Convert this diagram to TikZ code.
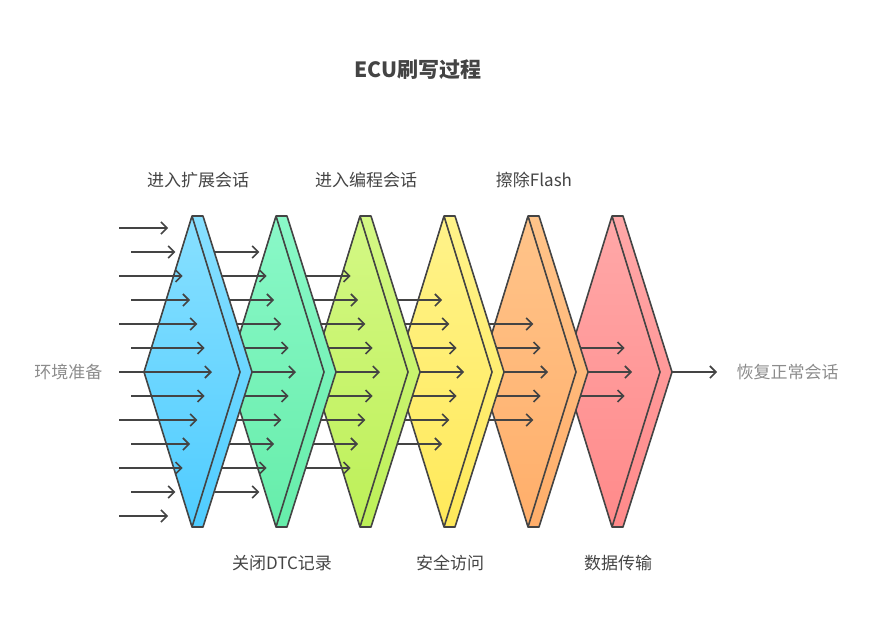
\documentclass[tikz,border=0pt]{standalone}
\usepackage{fontspec}
\setmainfont{Noto Sans CJK SC}
\usetikzlibrary{arrows.meta}
\definecolor{ln}{HTML}{444444}
\tikzset{
  stg/.style={draw=ln,line width=1.6pt,line join=round},
  arr/.style={draw=ln,line width=1.6pt,-{Straight Barb[length=6pt,width=12pt]}},
  lbl/.style={text=ln,font=\fontsize{17}{20}\selectfont},
  side/.style={text=black!45,font=\fontsize{17}{20}\selectfont},
}
\begin{document}
\begin{tikzpicture}[x=1pt,y=-1pt]
\useasboundingbox (0,0) rectangle (888,624);
\node[font=\bfseries\fontsize{21}{25}\selectfont,text=ln] (title) at (418,70) {ECU刷写过程};
\foreach \k/\ca/\cb in {6/FFA8A8/FF8A8A,5/FFC48A/FFAE6A,4/FFF38A/FFE95A,3/D4F885/BDF058,2/8AF8C8/66EDAA,1/88E0FF/4FCCFF}{
  \definecolor{ctop}{HTML}{\ca}
  \definecolor{cbot}{HTML}{\cb}
  \pgfmathsetmacro{\X}{192+84*(\k-1)}
  \shade[top color=ctop,bottom color=cbot]
    (\X,216) -- (\X+11,216) -- (\X+60,372) -- (\X+11,527) -- (\X,527) -- (\X-48,372) -- cycle;
  \draw[stg] (\X,216) -- (\X+11,216) -- (\X+60,372) -- (\X+11,527) -- (\X,527) -- (\X-48,372) -- cycle;
  \draw[stg] (\X,216) -- (\X+48,372) -- (\X,527);
  \pgfmathtruncatemacro{\n}{7-\k}
  \foreach \i in {-\n,...,\n}{
    \pgfmathsetmacro{\yy}{372+24*\i}
    \pgfmathsetmacro{\xe}{\X+20-7.33*abs(\i)}
    \ifnum\k=1
      \pgfmathsetmacro{\xs}{isodd(\i)?131:119}
    \else
      \pgfmathsetmacro{\xs}{\X-84+23}
    \fi
    \draw[arr] (\xs,\yy) -- (\xe,\yy);
  }
}
\node[side,anchor=east] (left) at (106,372) {环境准备};
\coordinate (s6) at (672,372);
\node[side,anchor=west] (right) at (733,372) {恢复正常会话};
\draw[arr] (s6) -- (717,372);
\node[lbl] (l1) at (198,180) {进入扩展会话};
\node[lbl] (l3) at (366,180) {进入编程会话};
\node[lbl] (l5) at (534,180) {擦除Flash};
\node[lbl] (l2) at (282,563) {关闭DTC记录};
\node[lbl] (l4) at (450,563) {安全访问};
\node[lbl] (l6) at (618,563) {数据传输};
\end{tikzpicture}
\end{document}
